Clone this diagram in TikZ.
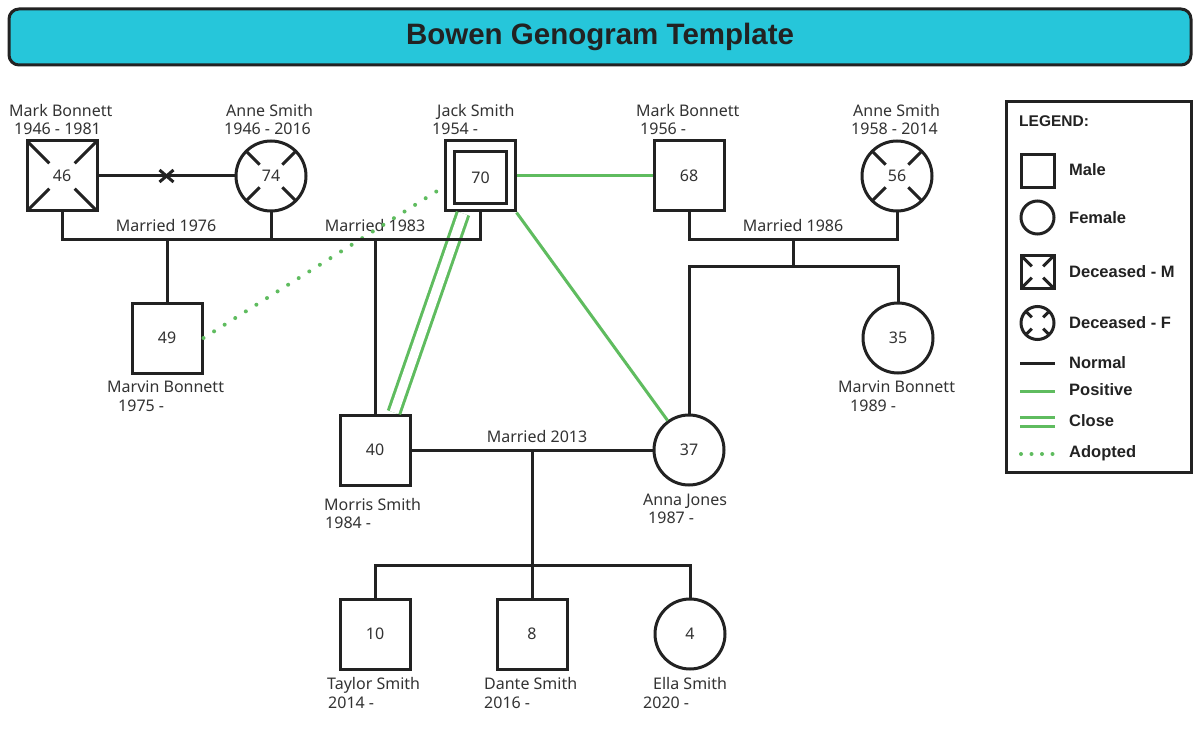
\documentclass[tikz,border=0pt]{standalone}
\usepackage{fontspec}
\setmainfont{Noto Sans}
\newfontfamily\boldfam{Liberation Sans}
\usetikzlibrary{calc,shapes.misc}
\definecolor{ink}{HTML}{222222}
\definecolor{txt}{HTML}{333333}
\definecolor{pgreen}{RGB}{95,188,95}
\definecolor{cyanbar}{HTML}{26C6DA}
\begin{document}
\begin{tikzpicture}[x=1pt,y=-1pt,
  male/.style={draw=ink,line width=3pt,minimum size=70pt,inner sep=0pt,font=\fontsize{16}{18}\selectfont,text=txt},
  female/.style={male,circle},
  decd/.style={path picture={\foreach \a in {45,135,225,315}{\draw[ink,line width=3pt] (path picture bounding box.center) ++(\a:#1) -- ++(\a:60);}}},
  lbl/.style={anchor=base west,inner sep=0pt,font=\fontsize{16}{18}\selectfont,text=txt},
  mlbl/.style={anchor=base,inner sep=0pt,font=\fontsize{16}{18}\selectfont,text=txt},
  rel/.style={draw=ink,line width=3pt},
  posrel/.style={draw=pgreen,line width=3pt},
  closerel/.style={draw=pgreen,line width=3pt,double=white,double distance=#1},
  adoptrel/.style={draw=pgreen,line width=4pt,line cap=round,dash pattern=on 0pt off 12.5pt},
  lgsym/.style={draw=ink,line width=3pt,minimum size=33pt,inner sep=0pt},
  lgtxt/.style={anchor=west,inner sep=0pt,font=\boldfam\bfseries\fontsize{16.5}{18}\selectfont,text=ink}
]
\useasboundingbox (0,0) rectangle (1200,738);
\fill[white] (0,0) rectangle (1200,738);

% title
\node[draw=ink,line width=3pt,fill=cyanbar,rounded corners=10pt,minimum width=1182pt,minimum height=56pt,inner sep=0pt,
  font=\boldfam\bfseries\fontsize{29.5}{32}\selectfont,text=ink] (title) at (600,37) {Bowen Genogram Template};

% people
\node[male,decd=18] (mark) at (62,176) {46};
\node[female,decd=16] (anne) at (271,176) {74};
\node[male] (jack) at (480,176) {};
\node[male,minimum size=52pt] (jackin) at (480.5,177.5) {70};
\node[male] (mark2) at (689,176) {68};
\node[female,decd=16] (anne2) at (897,176) {56};
\node[male] (marvin) at (167,338) {49};
\node[female] (marvin2) at (898,338) {35};
\node[male] (morris) at (375,450) {40};
\node[female] (anna) at (689,450) {37};
\node[male] (taylor) at (375,634) {10};
\node[male] (dante) at (532,634) {8};
\node[female] (ella) at (690,634) {4};

% names
\node[lbl] (n1a) at (9,117) {Mark Bonnett};
\node[lbl] (n1b) at (14,135) {1946 - 1981};
\node[lbl] (n2a) at (226,117) {Anne Smith};
\node[lbl] (n2b) at (224,135) {1946 - 2016};
\node[lbl] (n3a) at (437,117) {Jack Smith};
\node[lbl] (n3b) at (432,135) {1954 -};
\node[lbl] (n4a) at (636,117) {Mark Bonnett};
\node[lbl] (n4b) at (640,135) {1956 -};
\node[lbl] (n5a) at (853,117) {Anne Smith};
\node[lbl] (n5b) at (851,135) {1958 - 2014};
\node[lbl] (n6a) at (107,392) {Marvin Bonnett};
\node[lbl] (n6b) at (118,411) {1975 -};
\node[lbl] (n7a) at (838,392) {Marvin Bonnett};
\node[lbl] (n7b) at (850,411) {1989 -};
\node[lbl] (n8a) at (324,510) {Morris Smith};
\node[lbl] (n8b) at (325,528) {1984 -};
\node[lbl] (n9a) at (643,505) {Anna Jones};
\node[lbl] (n9b) at (648,523) {1987 -};
\node[lbl] (n10a) at (327,689) {Taylor Smith};
\node[lbl] (n10b) at (328,708) {2014 -};
\node[lbl] (n11a) at (484,689) {Dante Smith};
\node[lbl] (n11b) at (484,708) {2016 -};
\node[lbl] (n12a) at (653,689) {Ella Smith};
\node[lbl] (n12b) at (643,708) {2020 -};

% marriage labels
\node[mlbl] (m76) at (166,232) {Married 1976};
\node[mlbl] (m83) at (375,232) {Married 1983};
\node[mlbl] (m86) at (793,232) {Married 1986};
\node[mlbl] (m13) at (537,442) {Married 2013};

% helper coordinates
\coordinate (bar) at (0,240);
\coordinate (bar2) at (0,267);
\coordinate (bar3) at (0,565);
\coordinate (mid86) at (793,240);
\coordinate (mid13) at (532,450);

% emotional relations (drawn under the structural lines)
\draw[closerel=9pt] ($(jack.south)+(-17,1)$) -- ($(morris.north)+(19,-1)$);
\draw[posrel] (jack.east) -- (mark2.west);
\draw[posrel] (jack.south east) -- (anna);
\draw[adoptrel] (marvin.east) -- ($(jack.west)+(0,11)$);

% structural lines
\draw[rel] (mark.east) -- node[cross out,draw=ink,line width=3pt,minimum width=11pt,minimum height=9pt,inner sep=0pt]{} (anne.west);
\draw[rel] (mark.south) -- (mark.south |- bar) -- (jack.south |- bar) -- (jack.south);
\draw[rel] (anne.south) -- (anne.south |- bar);
\draw[rel] (marvin.north) -- (marvin.north |- bar);
\draw[rel] (morris.north) -- (morris.north |- bar);

\draw[rel] (mark2.south) -- (mark2.south |- bar) -- (anne2.south |- bar) -- (anne2.south);
\draw[rel] (mid86) -- (mid86 |- bar2);
\draw[rel] (anna.north) -- (anna.north |- bar2) -- (marvin2.north |- bar2) -- (marvin2.north);

\draw[rel] (morris) -- (anna);
\draw[rel] (mid13) -- (mid13 |- bar3);
\draw[rel] (taylor.north) -- (taylor.north |- bar3) -- (ella.north |- bar3) -- (ella.north);
\draw[rel] (dante.north) -- (dante.north |- bar3);

% legend
\draw[ink,line width=3pt] (1006,102) rectangle (1191,472);
\node[anchor=west,inner sep=0pt,font=\boldfam\bfseries\fontsize{15.5}{16}\selectfont,text=ink] (lgtitle) at (1019,121) {LEGEND:};
\node[lgsym] (lgmale) at (1037.5,171) {};
\node[lgtxt] (lgt1) at (1069,170) {Male};
\node[lgsym,circle] (lgfem) at (1037.5,217.5) {};
\node[lgtxt] (lgt2) at (1069,218) {Female};
\node[lgsym,decd=8] (lgdm) at (1037.5,272) {};
\node[lgtxt] (lgt3) at (1069,272) {Deceased - M};
\node[lgsym,circle,decd=8] (lgdf) at (1037.5,323) {};
\node[lgtxt] (lgt4) at (1069,323) {Deceased - F};
\coordinate (ln1a) at (1020,363); \coordinate (ln1b) at (1055,363);
\draw[rel] (ln1a) -- (ln1b);
\node[lgtxt] (lgt5) at (1069,363) {Normal};
\coordinate (ln2a) at (1020,391); \coordinate (ln2b) at (1055,391);
\draw[posrel] (ln2a) -- (ln2b);
\node[lgtxt] (lgt6) at (1069,390) {Positive};
\coordinate (ln3a) at (1020,421.5); \coordinate (ln3b) at (1055,421.5);
\draw[closerel=6pt] (ln3a) -- (ln3b);
\node[lgtxt] (lgt7) at (1069,421) {Close};
\coordinate (ln4a) at (1021,454); \coordinate (ln4b) at (1055,454);
\draw[adoptrel,dash pattern=on 0pt off 10.5pt] (ln4a) -- (ln4b);
\node[lgtxt] (lgt8) at (1069,453) {Adopted};
\end{tikzpicture}
\end{document}
